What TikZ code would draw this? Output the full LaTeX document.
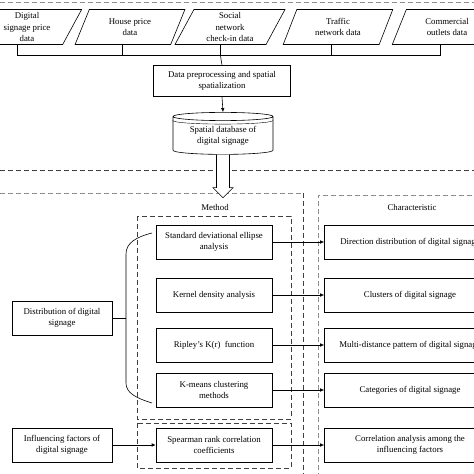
\documentclass[tikz,border=0pt]{standalone}
\usepackage{fontspec}
\setmainfont{Liberation Serif}
\usetikzlibrary{shapes.geometric,arrows.meta}

\begin{document}
\begin{tikzpicture}[
    x=1pt, y=-1pt,
    font=\fontsize{8.8}{11.5}\selectfont,
    line width=0.6pt,
    every node/.style={align=center},
    datain/.style={draw, trapezium, trapezium stretches=true,
        trapezium left angle=67, trapezium right angle=113,
        minimum width=110pt, minimum height=35pt, inner sep=0pt},
    box/.style={draw, rectangle, minimum height=34pt, inner sep=1pt},
    methodbox/.style={box, minimum width=116pt},
    charbox/.style={box, minimum width=171pt},
    factorbox/.style={box, minimum width=100pt},
    store/.style={draw, cylinder, shape border rotate=90, aspect=0.12,
        minimum width=100pt, minimum height=42pt, inner sep=1pt},
    frame/.style={dash pattern=on 5pt off 3pt, black!45},
    group/.style={dash pattern=on 5pt off 3pt, black!75},
    link/.style={-{Latex[length=4pt,width=3.5pt]}}
]
    \useasboundingbox (0,0) rectangle (474,474);
    \clip (0,0) rectangle (474,474);

    \draw[frame] (0,2) -- (474,2);
    \draw[group] (0,170) -- (474,170);
    \draw[frame] (0,193) -- (303,193);
    \draw[group] (303,193) -- (303,480);
    \draw[frame] (480,195) -| (318,480);
    \draw[group] (137,216) rectangle (291,419);
    \draw[group] (137,423) rectangle (291,468);

    \node (d1) [datain] at (27,27) {Digital\\signage price\\data};
    \node (d2) [datain] at (130,27) {House price\\data};
    \node (d3) [datain] at (230,27) {Social\\network\\check-in data};
    \node (d4) [datain] at (338,27) {Traffic\\network data};
    \node (d5) [datain] at (447,27) {Commercial\\outlets data};
    \coordinate (bus) at (0,55);

    \node (prep) [box, minimum width=137pt, minimum height=31pt] at (222,81)
        {Data preprocessing and spatial\\spatialization};
    \node (db) [store] at (223,136) {\\[-6pt]Spatial database of\\digital signage};
    \draw[line width=0.4pt] (db.west |- 0,120.5)
        arc[start angle=180, end angle=360, x radius=50pt, y radius=3.6pt];

    \node (method) at (215,207) {Method};
    \node (charac) at (412,207) {Characteristic};

    \node (sde) [methodbox] at (214,242) {Standard deviational ellipse\\analysis};
    \node (kde) [methodbox] at (214,295) {Kernel density analysis};
    \node (rk)  [methodbox] at (214,345) {Ripley's K(r)~ function};
    \node (km)  [methodbox] at (214,390) {K-means clustering\\methods};
    \node (sr)  [methodbox] at (214,445) {Spearman rank correlation\\coefficients};

    \node (dir) [charbox] at (410,242) {Direction distribution of digital signage};
    \node (clu) [charbox] at (410,295) {Clusters of digital signage};
    \node (mdp) [charbox] at (410,345) {Multi-distance pattern of digital signage};
    \node (cat) [charbox] at (410,390) {Categories of digital signage};
    \node (cor) [charbox] at (410,445) {Correlation analysis among the\\influencing factors};

    \node (dist) [factorbox] at (62,318) {Distribution of digital\\signage};
    \node (infl) [factorbox] at (62,445) {Influencing factors of\\digital signage};
    \coordinate (brace) at (126,318);

    \draw (d1.bottom side) |- (d5.bottom side |- bus) -- (d5.bottom side);
    \foreach \n in {d2,d3,d4}
        \draw (\n.bottom side) -- (\n.bottom side |- bus);
    \draw (d3.bottom side |- bus) -- (prep.north);
    \draw[link] (prep.south) -- (db.north);
    \draw[fill=white, shift={(db.south)}] (-6.5,0) -- (-6.5,33) -- (-10,33)
        -- (0,43) -- (10,33) -- (6.5,33) -- (6.5,0);

    \draw (152,233) .. controls (136,237) and (126,243) .. (126,254)
        -- (126,383) .. controls (126,393) and (136,398) .. (152,403);
    \draw (dist.east) -- (dist.east -| brace);

    \foreach \a/\b in {sde/dir, kde/clu, rk/mdp, km/cat, sr/cor}
        \draw[link] (\a.east) -- (\b.west);
    \draw[link] (infl.east) -- (sr.west);
\end{tikzpicture}
\end{document}
